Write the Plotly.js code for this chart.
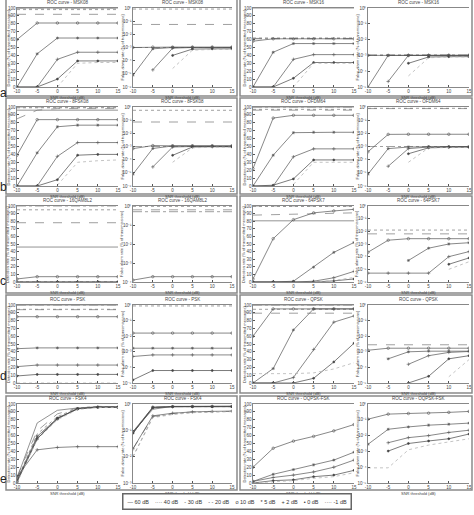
<!DOCTYPE html>
<html><head><meta charset="utf-8">
<script src="https://cdn.plot.ly/plotly-3.0.1.min.js"></script>
<style>html,body{margin:0;padding:0;background:#fff}#chart{width:474px;height:515px}</style>
</head><body><div id="chart"></div>
<script>
// ---- data ----
const X_VALUES = [-10, -5, 0, 5, 10, 15];
const X_TICK_LABELS = ["-10", "-5", "0", "5", "10", "15"];
const SERIES_NAMES = ["60 dB", "40 dB", "30 dB", "20 dB", "10 dB", "5 dB", "2 dB", "0 dB", "-1 dB"];
const PANEL_LETTERS = ["a", "b", "c", "d", "e"];
const PANEL_TITLES = ["MSK08", "MSK16", "8FSK08", "OFDM64", "16QAM8L2", "64PSK7", "PSK", "QPSK", "FSK4", "OQPSK-FSK"];
const LOG_RANGES = [[-6, 0], [-5, 0], [-6, 0], [-6, 0], [-4, 0], [-6, 0], [-5, 0], [-5, 0], [-3, 0], [-5, 0]];
const LOG_TICK_VALUES = [1e-6, 1e-5, 1e-4, 1e-3, 1e-2, 1e-1, 1];
const LOG_TICK_LABELS = ["10⁻⁶", "10⁻⁵", "10⁻⁴", "10⁻³", "10⁻²", "10⁻¹", "10⁰"];

// detection rate (%) per series [60,40,30,20,10,5,2,0,-1 dB]
const A_LEFT_DET = [
  [100,100,100,100,100,100],[98,98,98,98,98,98],[92,92,92,92,92,92],[100,100,100,100,100,100],
  [60,81,81,81,81,81],[0,42,62,62,62,62],[0,0,35,44,44,44],[0,0,10,33,33,33],[null,null,0,30,31,31]];
const A_RIGHT_DET = [
  [100,100,100,100,100,100],[62,62,62,62,62,62],[61,61,61,61,61,61],[61.5,61.5,61.5,61.5,61.5,61.5],
  [58,61,61,61,61,61],[0,44,55,55,55,55],[0,0,35,41,41,41],[0,0,11,31,31,31],[null,null,0,30,30,30]];
const B_LEFT_DET = [
  [96,96,96,96,96,96],[99,99,99,99,99,99],[85,96,98,98,98,98],[100,100,100,100,100,100],
  [39,84,84,84,84,84],[0,42,75,77,77,77],[0,0,37.5,55,55,55],[0,0,8,39,40,40],[null,null,1,30,32,33]];
const B_RIGHT_DET = [
  [100,100,100,100,100,100],[97,97,97,97,97,97],[96,96,96,96,96,96],[100,100,100,100,100,100],
  [22,86,89.5,89.5,89.5,89.5],[0,39,67.5,68,68,68],[0,0,37,47,47,47],[0,1,9,33,33,33],[null,null,2,30,30,30]];
const C_LEFT_DET = [
  [46,46,46,46,46,46],[95,95,95,95,95,95],[78,78,78,78,78,78],[100,100,100,100,100,100],
  [4,7,7,7,7,7],[0,0,0,0,0,0],[0,0,0,0,0,0],[0,0,0,0,0,0],[0,0,0,0,0,0]];
const C_RIGHT_DET = [
  [80.5,80.5,80.5,80.5,80.5,80.5],[99.5,99.5,99.5,99.5,99.5,99.5],[88,88.5,89,89.5,90,91],[100,100,100,100,100,100],
  [4,57,82,91,93.5,95.6],[0,0,1,19.5,39,52],[0,0,0,1,5.6,14],[0,0,0,0,1.5,4],[null,null,null,0,2,6]];
const D_LEFT_DET = [
  [100,100,100,100,100,100],[94.5,94.5,94.5,94.5,94.5,94.5],[94,94,94,94,94,94],[100,100,100,100,100,100],
  [85,85,85,85,85,85],[44,45,45,45,45,45],[21,23,23,23,23,23],[9,11,11,11,11,11],[0,0,0,0,0,0]];
const D_RIGHT_DET = [
  [100,100,100,100,100,100],[94.5,94.5,94.5,94.5,94.5,94.5],[89.5,89.5,89.5,89.5,89.5,89.5],[100,100,100,100,100,100],
  [60,95,95,95,95,95],[0,18.5,68,95,95,95],[0,0,7,43,78,86],[0,0,0,6,27,51],[12,12,12,13,18,26]];
const E_LEFT_DET = [
  [6,76,92,95,96.5,96.5],[4,62,84,95,97,96.5],[8,66,87.5,95,96,96],[3,58,82,94,96,96],
  [2,56,81,94,96,96],[3,59,82,94,96,96],[8,42,45,46,46,46],[1,56,82,94,96,96],[0,55,80,93,95.5,95.5]];
const E_RIGHT_DET = [
  null,null,null,null,
  [20,44,53,59,66,74],[2,11,17,23,29,39],[2,7,10,14,20,29],[0,3,4,8,10,16],[0,1.6,3,6,8,13]];

// false alarm rate, stored as log10 of the value read on the log axis
const A_LEFT_FAR_LOG10 = [
  null,[-0.08,-0.08,-0.08,-0.08,-0.08,-0.08],[-1.25,-1.25,-1.25,-1.25,-1.25,-1.25],[-3,-3,-3,-3,-3,-3],
  [-3,-2.97,-2.97,-2.97,-2.97,-2.97],[-5.1,-3.1,-3,-3,-3,-3],[null,-4.7,-3.05,-3,-3,-3],[null,null,-3.6,-3.12,-3.1,-3.1],[null,null,-4.6,-3.2,-3.15,-3.15]];
const A_RIGHT_FAR_LOG10 = [
  null,[-3,-3,-3,-3,-3,-3],[-3,-3,-3,-3,-3,-3],[-2.97,-2.97,-2.97,-2.97,-2.97,-2.97],
  [-3,-3,-3,-3,-3,-3],[-5,-3,-3,-3,-3,-3],[null,-4.65,-3,-3,-3,-3],[null,null,-3.5,-3.1,-3.08,-3.08],[null,null,-4.3,-3.15,-3.1,-3.1]];
const B_LEFT_FAR_LOG10 = [
  null,[-0.25,-0.25,-0.25,-0.25,-0.25,-0.25],[-1.14,-1.14,-1.14,-1.14,-1.14,-1.14],[-3,-3,-3,-3,-3,-3],
  [-3.16,-2.93,-2.95,-2.95,-2.95,-2.95],[-5.1,-3.15,-2.96,-2.96,-2.96,-2.96],[null,-4.55,-3.04,-3,-3,-3],[null,null,-3.67,-3.04,-3.02,-3.02],[null,null,-4.2,-3.1,-3.05,-3.05]];
const B_RIGHT_FAR_LOG10 = [
  null,[-0.1,-0.1,-0.1,-0.1,-0.1,-0.1],[-0.12,-0.12,-0.12,-0.12,-0.12,-0.12],[-3,-3,-3,-3,-3,-3],
  [-3.4,-2.08,-2.07,-2.07,-2.07,-2.07],[-5.1,-3.16,-3.04,-3,-3,-3],[null,-4.5,-3.16,-3.04,-3.02,-3.02],[null,null,-3.55,-3.1,-3.06,-3.06],[null,null,-4.2,-3.1,-3.08,-3.08]];
const C_LEFT_FAR_LOG10 = [
  null,[-0.02,-0.02,-0.02,-0.02,-0.02,-0.02],[-0.2,-0.2,-0.2,-0.2,-0.2,-0.2],[-0.3,-0.3,-0.3,-0.3,-0.3,-0.3],
  [-3.9,-3.72,-3.72,-3.72,-3.72,-3.72],null,null,null,null];
const C_RIGHT_FAR_LOG10 = [
  null,[-1.9,-1.9,-1.9,-1.9,-1.9,-1.9],[-2.2,-2.2,-2.2,-2.2,-2.2,-2.2],null,
  [-3.65,-2.7,-2.58,-2.58,-2.58,-2.58],[null,null,-4.3,-3.33,-3,-2.9],[-5.3,-5.3,-5.3,-5.3,-4,-3.6],[null,null,null,null,-4.6,-4.1],[null,null,null,null,-5,-4.4]];
const D_LEFT_FAR_LOG10 = [
  null,[-0.06,-0.06,-0.06,-0.06,-0.06,-0.06],null,null,
  [-1.8,-1.8,-1.8,-1.8,-1.8,-1.8],[-2.77,-2.77,-2.77,-2.77,-2.77,-2.77],[-3.3,-3.2,-3.2,-3.2,-3.2,-3.2],[-4.8,-4.2,-4.2,-4.2,-4.2,-4.2],null];
const D_RIGHT_FAR_LOG10 = [
  null,null,[-2.55,-2.55,-2.55,-2.55,-2.55,-2.55],null,
  [-2.9,-2.77,-2.77,-2.77,-2.77,-2.77],[null,-3.45,-3,-2.96,-2.96,-2.96],[null,null,-3.8,-3.25,-3.04,-2.98],[null,null,-5,-4.57,-3.45,-3.25],[null,null,null,null,-4.6,-3.5]];
const E_LEFT_FAR_LOG10 = [
  [-1.05,-0.2,-0.09,-0.08,-0.08,-0.08],[-2,-0.5,-0.38,-0.32,-0.3,-0.28],[-1.7,-0.48,-0.36,-0.3,-0.29,-0.28],[-1.1,-0.12,-0.1,-0.1,-0.1,-0.1],
  [-1.05,-0.12,-0.1,-0.09,-0.09,-0.09],[-1.1,-0.15,-0.1,-0.1,-0.1,-0.1],[-1.7,-0.45,-0.35,-0.3,-0.28,-0.27],[-1.1,-0.13,-0.1,-0.1,-0.1,-0.1],[-2,-0.52,-0.4,-0.33,-0.3,-0.29]];
const E_RIGHT_FAR_LOG10 = [
  null,null,null,null,
  [-0.96,-0.64,-0.6,-0.58,-0.53,-0.47],[-2.55,-1.6,-1.45,-1.34,-1.28,-1.21],[null,-2.45,-2.13,-2,-1.8,-1.66],[null,-2.98,-2.5,-2.34,-2.2,-1.9],[-4.04,-4.04,-2.9,-2.6,-2.4,-2.2]];

const DET = [A_LEFT_DET, A_RIGHT_DET, B_LEFT_DET, B_RIGHT_DET, C_LEFT_DET, C_RIGHT_DET, D_LEFT_DET, D_RIGHT_DET, E_LEFT_DET, E_RIGHT_DET];
const FAR = [A_LEFT_FAR_LOG10, A_RIGHT_FAR_LOG10, B_LEFT_FAR_LOG10, B_RIGHT_FAR_LOG10, C_LEFT_FAR_LOG10, C_RIGHT_FAR_LOG10, D_LEFT_FAR_LOG10, D_RIGHT_FAR_LOG10, E_LEFT_FAR_LOG10, E_RIGHT_FAR_LOG10];

// ---- styling / layout ----
const W = 474, H = 515;
const COLS = [[17,118],[133,232],[253,354],[368,469]];
const ROWS = [[8,87],[107,186],[206,282],[305,383],[404,483]];
const STYLES = [
  {mode:'lines', dash:'solid', color:'#666', width:0.7},
  {mode:'lines', dash:'dot', color:'#777', width:0.7},
  {mode:'lines', dash:'dash', color:'#777', width:0.7},
  {mode:'lines', dash:'dashdot', color:'#777', width:0.7},
  {mode:'lines+markers', dash:'solid', color:'#555', width:0.7, symbol:'circle-open', size:2.5},
  {mode:'lines+markers', dash:'solid', color:'#555', width:0.7, symbol:'asterisk-open', size:2.5},
  {mode:'lines+markers', dash:'solid', color:'#555', width:0.7, symbol:'cross-thin-open', size:2.5},
  {mode:'lines+markers', dash:'solid', color:'#444', width:0.7, symbol:'circle', size:2},
  {mode:'lines', dash:'dot', color:'#b5b5b5', width:0.8}
];
const FONT = 'Liberation Sans, Arial, sans-serif';
const TXT = '#444';
const traces = [];
const layout = {
  width: W, height: H, margin: {l:0, r:0, t:0, b:0},
  paper_bgcolor: '#fff', plot_bgcolor: '#fff', showlegend: false,
  font: {family: FONT, color: TXT},
  annotations: [], shapes: []
};
const px = v => v / W, py = v => 1 - v / H;

let k = 0;
for (let r = 0; r < 5; r++) {
  for (let c = 0; c < 4; c++) {
    k++;
    const isLog = c % 2 === 1;
    const panel = r * 2 + (c >= 2 ? 1 : 0);
    const data = isLog ? FAR[panel] : DET[panel];
    const xa = 'x' + (k === 1 ? '' : k), ya = 'y' + (k === 1 ? '' : k);
    data.forEach((ser, s) => {
      if (!ser) return;
      const st = STYLES[s];
      const tr = {
        type: 'scatter', x: X_VALUES,
        y: isLog ? ser.map(v => v === null ? null : Math.pow(10, v)) : ser,
        xaxis: xa, yaxis: ya, name: SERIES_NAMES[s], mode: st.mode,
        line: {color: st.color, dash: st.dash, width: st.width},
        connectgaps: false, hoverinfo: 'skip', cliponaxis: true
      };
      if (st.symbol) tr.marker = {symbol: st.symbol, size: st.size, color: st.color, line: {width: 0.6, color: st.color}};
      traces.push(tr);
    });
    const [x0, x1] = COLS[c], [y0, y1] = ROWS[r];
    layout['xaxis' + (k === 1 ? '' : k)] = {
      domain: [px(x0), px(x1)], anchor: ya, range: [-10, 15],
      tickvals: X_VALUES, ticktext: X_TICK_LABELS, tickfont: {size: 4.5, color: TXT},
      showgrid: false, zeroline: false, showline: true, linecolor: '#555', linewidth: 0.7,
      mirror: true, ticks: 'inside', ticklen: 2, tickcolor: '#555'
    };
    const yax = {
      domain: [py(y1), py(y0)], anchor: xa, tickfont: {size: 4.5, color: TXT},
      showgrid: false, zeroline: false, showline: true, linecolor: '#555', linewidth: 0.7,
      ticks: 'inside', ticklen: 2, tickcolor: '#555'
    };
    if (isLog) Object.assign(yax, {type: 'log', range: LOG_RANGES[panel], tickvals: LOG_TICK_VALUES, ticktext: LOG_TICK_LABELS});
    else Object.assign(yax, {range: [0, 100], dtick: 10});
    layout['yaxis' + (k === 1 ? '' : k)] = yax;

    layout.annotations.push({
      text: 'ROC curve - ' + PANEL_TITLES[panel], xref: 'paper', yref: 'paper',
      x: px((x0 + x1) / 2), y: py(y0 - 1), yanchor: 'bottom', xanchor: 'center',
      showarrow: false, font: {size: 4.5, color: TXT}
    });
    layout.annotations.push({
      text: isLog ? 'False alarm rate (% of transmissions)' : 'Detection rate (% of transmitted messages)',
      xref: 'paper', yref: 'paper', x: px(x0 - (isLog ? 11 : 9)), y: py((y0 + y1) / 2),
      textangle: -90, xanchor: 'center', yanchor: 'middle', showarrow: false, font: {size: 4, color: TXT}
    });
    layout.annotations.push({
      text: 'SNR threshold (dB)', xref: 'paper', yref: 'paper',
      x: px((x0 + x1) / 2), y: py(y1 + 6), yanchor: 'top', xanchor: 'center',
      showarrow: false, font: {size: 4, color: TXT}
    });
  }
}

// panel frames
const PANEL_Y = [[-2,96],[98,194],[196,293],[295,393],[396,490]];
const PANEL_X = [[6,237],[240,472]];
PANEL_Y.forEach(([t, b]) => PANEL_X.forEach(([l, rr]) => layout.shapes.push({
  type: 'rect', xref: 'paper', yref: 'paper', x0: px(l), x1: px(rr), y0: py(b), y1: py(t),
  line: {color: '#8a8a8a', width: 1.5}, fillcolor: 'rgba(0,0,0,0)'
})));
// row letters
const LETTER_Y = [93, 187, 281, 376, 479];
PANEL_LETTERS.forEach((L, i) => layout.annotations.push({
  text: L, xref: 'paper', yref: 'paper', x: px(3), y: py(LETTER_Y[i]), xanchor: 'center', yanchor: 'middle',
  showarrow: false, font: {size: 12, color: '#222', family: FONT}
}));
// legend box
const legendMarks = ['—', '····', '-', '- -', 'o', '*', '+', '•', '····'];
layout.annotations.push({
  text: SERIES_NAMES.map((n, i) => legendMarks[i] + ' ' + n).join('    '),
  xref: 'paper', yref: 'paper', x: px(236.5), y: py(501.5), xanchor: 'center', yanchor: 'middle',
  showarrow: false, font: {size: 5.5, color: '#333'},
  bordercolor: '#666', borderwidth: 1.5, borderpad: 4, bgcolor: '#fff'
});

Plotly.newPlot('chart', traces, layout, {displayModeBar: false, staticPlot: true});
</script></body></html>
